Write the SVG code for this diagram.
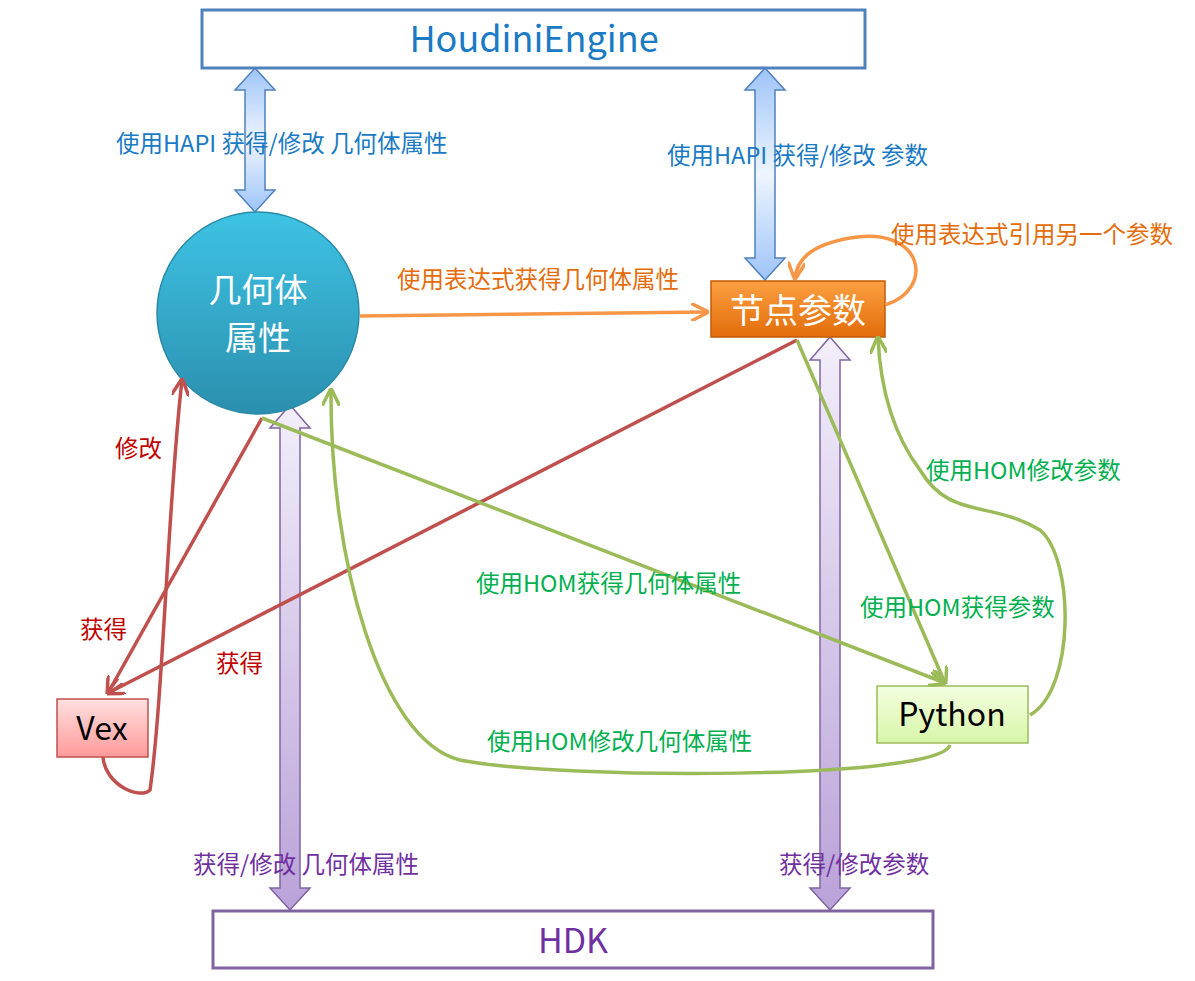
<svg xmlns="http://www.w3.org/2000/svg" width="1195" height="981" viewBox="0 0 1195 981">
<defs>
<style>
text{font-family:"Noto Sans CJK SC","Noto Sans",sans-serif}
.lb{font-size:23.5px}
.bl{fill:#1a7ac4}.or{fill:#e46c0a}.rd{fill:#c00000}.gn{fill:#00b050}.pu{fill:#7030a0}
.c{fill:none;stroke-width:3.5}
</style>
<linearGradient id="gc" x1="0" y1="0" x2="0" y2="1"><stop offset="0" stop-color="#3ec3e4"/><stop offset="1" stop-color="#2b8fae"/></linearGradient>
<linearGradient id="go" x1="0" y1="0" x2="0" y2="1"><stop offset="0" stop-color="#fba042"/><stop offset="1" stop-color="#e36c0a"/></linearGradient>
<linearGradient id="gv" x1="0" y1="0" x2="0" y2="1"><stop offset="0" stop-color="#ffe0e0"/><stop offset="1" stop-color="#ff9a9a"/></linearGradient>
<linearGradient id="gp" x1="0" y1="0" x2="0" y2="1"><stop offset="0" stop-color="#f4ffe0"/><stop offset="1" stop-color="#d6f5a8"/></linearGradient>
<linearGradient id="gb" x1="0" y1="0" x2="0" y2="1"><stop offset="0" stop-color="#9ec4f8"/><stop offset="0.5" stop-color="#eef5ff"/><stop offset="1" stop-color="#9ec4f8"/></linearGradient>
<linearGradient id="gpu" x1="0" y1="0" x2="0" y2="1"><stop offset="0" stop-color="#f3eefa"/><stop offset="1" stop-color="#b9a2d8"/></linearGradient>
<marker id="ao" viewBox="0 0 10 10" refX="9" refY="5" markerWidth="5" markerHeight="5" orient="auto"><path d="M0,0L10,5L0,10" fill="none" stroke="#f79646" stroke-width="2"/></marker>
<marker id="ar" viewBox="0 0 10 10" refX="9" refY="5" markerWidth="5" markerHeight="5" orient="auto"><path d="M0,0L10,5L0,10" fill="none" stroke="#c0504d" stroke-width="2"/></marker>
<marker id="ag" viewBox="0 0 10 10" refX="9" refY="5" markerWidth="5" markerHeight="5" orient="auto"><path d="M0,0L10,5L0,10" fill="none" stroke="#9bbb59" stroke-width="2"/></marker>
</defs>
<rect width="1195" height="981" fill="#fff"/>
<g id="blockarrows">
<path d="M255,68 L275,90 L265,90 L265,190 L275,190 L255,212 L235,190 L245,190 L245,90 L235,90Z" fill="url(#gb)" stroke="#4f81bd" stroke-width="1.5"/>
<path d="M765,68 L785,90 L775,90 L775,258 L785,258 L765,280 L745,258 L755,258 L755,90 L745,90Z" fill="url(#gb)" stroke="#4f81bd" stroke-width="1.5"/>
<path d="M290,405 L310,428 L300,428 L300,888 L310,888 L290,910 L270,888 L280,888 L280,428 L270,428Z" fill="url(#gpu)" stroke="#8064a2" stroke-width="1.5"/>
<path d="M830,337 L850,360 L840,360 L840,888 L850,888 L830,910 L810,888 L820,888 L820,360 L810,360Z" fill="url(#gpu)" stroke="#8064a2" stroke-width="1.5"/>
</g>
<g id="houdini"><rect x="202" y="10" width="663" height="58" fill="#fff" stroke="#4f81bd" stroke-width="3"/><text x="534" y="52" text-anchor="middle" font-size="36" fill="#1a7ac4">HoudiniEngine</text></g>
<g id="hdk"><rect x="213" y="911" width="720" height="57" fill="#fff" stroke="#8064a2" stroke-width="3"/><text x="573" y="953" text-anchor="middle" font-size="34" fill="#7030a0">HDK</text></g>
<g id="geo"><circle cx="258" cy="313" r="101" fill="url(#gc)" stroke="#2a8aa8" stroke-width="1.5"/><text x="258" y="302" text-anchor="middle" font-size="33" fill="#fff">几何体</text><text x="258" y="350" text-anchor="middle" font-size="33" fill="#fff">属性</text></g>
<g id="param"><rect x="711" y="281" width="174" height="56" fill="url(#go)" stroke="#c35a08" stroke-width="1.5"/><text x="798" y="323" text-anchor="middle" font-size="34" fill="#fff">节点参数</text></g>
<g id="vex"><rect x="57" y="699" width="91" height="58" fill="url(#gv)" stroke="#c0504d" stroke-width="1.5"/><text x="102" y="740" text-anchor="middle" font-size="32" fill="#000">Vex</text></g>
<g id="python"><rect x="877" y="686" width="151" height="57" fill="url(#gp)" stroke="#9bbb59" stroke-width="1.5"/><text x="952" y="726" text-anchor="middle" font-size="32" fill="#000">Python</text></g>
<g id="connectors">
<path class="c" d="M360,316 L707,312" stroke="#f79646" marker-end="url(#ao)"/>
<path class="c" d="M885,305 C935,290 925,225 850,238 C810,245 797,260 795,278" stroke="#f79646" marker-end="url(#ao)"/>
<path class="c" d="M262,418 L108,693" stroke="#c0504d" marker-end="url(#ar)"/>
<path class="c" d="M797,340 L108,693" stroke="#c0504d" marker-end="url(#ar)"/>
<path class="c" d="M103,757 C105,785 140,800 150,790 C163,700 168,500 182,380" stroke="#c0504d" marker-end="url(#ar)"/>
<path class="c" d="M262,418 L945,683" stroke="#9bbb59" marker-end="url(#ag)"/>
<path class="c" d="M797,340 L945,683" stroke="#9bbb59" marker-end="url(#ag)"/>
<path class="c" d="M1030,715 C1075,690 1075,560 1040,530 C990,500 950,520 920,470 C890,430 880,380 878,338" stroke="#9bbb59" marker-end="url(#ag)"/>
<path class="c" d="M950,745 C940,780 560,780 460,760 C380,740 330,560 331,390" stroke="#9bbb59" marker-end="url(#ag)"/>
</g>
<g id="labels">
<text class="lb bl" x="116" y="152">使用HAPI 获得/修改 几何体属性</text>
<text class="lb bl" x="667" y="164">使用HAPI 获得/修改 参数</text>
<text class="lb or" x="891" y="243">使用表达式引用另一个参数</text>
<text class="lb or" x="397" y="288">使用表达式获得几何体属性</text>
<text class="lb rd" x="115" y="457">修改</text>
<text class="lb rd" x="80" y="638">获得</text>
<text class="lb rd" x="216" y="672">获得</text>
<text class="lb gn" x="926" y="479">使用HOM修改参数</text>
<text class="lb gn" x="476" y="592">使用HOM获得几何体属性</text>
<text class="lb gn" x="860" y="616">使用HOM获得参数</text>
<text class="lb gn" x="487" y="750">使用HOM修改几何体属性</text>
<text class="lb pu" x="193" y="873">获得/修改 几何体属性</text>
<text class="lb pu" x="779" y="873">获得/修改参数</text>
</g>
</svg>
